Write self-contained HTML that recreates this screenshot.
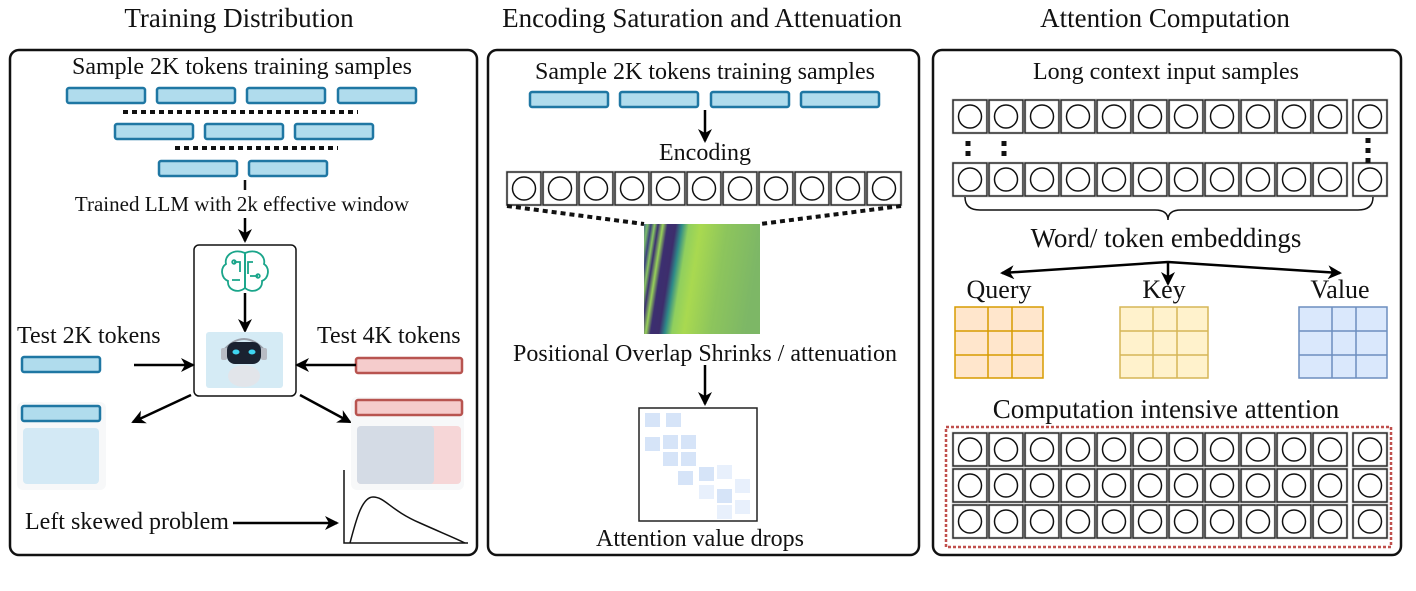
<!DOCTYPE html>
<html><head><meta charset="utf-8"><style>
html,body{margin:0;padding:0;background:#fff}
svg{display:block}
text{font-family:"Liberation Serif",serif;fill:#111}
</style></head><body>
<svg width="1416" height="591" viewBox="0 0 1416 591" xmlns="http://www.w3.org/2000/svg">
<defs>
<marker id="ah" markerWidth="14" markerHeight="14" refX="12" refY="7" orient="auto" markerUnits="userSpaceOnUse"><path d="M0,0 L14,7 L0,14 L4,7 Z" fill="#000"/></marker>
<g id="tb"><rect x="0" y="0" width="34" height="33" fill="#fff" stroke="#bbb" stroke-width="2.5"/><rect x="0" y="0" width="34" height="33" fill="none" stroke="#222" stroke-width="1.3"/><circle cx="17" cy="16.5" r="11.5" fill="none" stroke="#111" stroke-width="1.5"/></g>
<rect id="bb" width="78" height="15" rx="2" fill="#b0dced" stroke="#1f77a3" stroke-width="2.5"/>
<linearGradient id="hm" x1="0" y1="0" x2="1" y2="0.15">
<stop offset="0" stop-color="#4a6b8a"/><stop offset="0.03" stop-color="#7bbd6a"/><stop offset="0.06" stop-color="#3a3f7d"/><stop offset="0.09" stop-color="#8ac860"/><stop offset="0.12" stop-color="#3b2f72"/><stop offset="0.16" stop-color="#98d259"/><stop offset="0.2" stop-color="#3c2f70"/><stop offset="0.27" stop-color="#3d2d6c"/><stop offset="0.32" stop-color="#2e8a88"/><stop offset="0.38" stop-color="#90cf5e"/><stop offset="0.48" stop-color="#a9d950"/><stop offset="0.7" stop-color="#8dc55c"/><stop offset="1" stop-color="#7db766"/>
</linearGradient>
</defs>

<!-- titles -->
<text x="239" y="27" font-size="27" text-anchor="middle">Training Distribution</text>
<text x="702" y="27" font-size="27" text-anchor="middle">Encoding Saturation and Attenuation</text>
<text x="1165" y="27" font-size="27" text-anchor="middle">Attention Computation</text>

<!-- panels -->
<rect x="10" y="50" width="467" height="505" rx="9" fill="none" stroke="#111" stroke-width="2.5"/>
<rect x="488" y="50" width="431" height="505" rx="9" fill="none" stroke="#111" stroke-width="2.5"/>
<rect x="933" y="50" width="468" height="505" rx="9" fill="none" stroke="#111" stroke-width="2.5"/>

<!-- PANEL 1 -->
<text x="242" y="74" font-size="24" text-anchor="middle">Sample 2K tokens training samples</text>
<use href="#bb" x="67" y="88"/><use href="#bb" x="157" y="88"/><use href="#bb" x="247" y="88"/><use href="#bb" x="338" y="88"/>
<line x1="123" y1="112" x2="358" y2="112" stroke="#111" stroke-width="4" stroke-dasharray="5 4"/>
<use href="#bb" x="115" y="124"/><use href="#bb" x="205" y="124"/><use href="#bb" x="295" y="124"/>
<line x1="175" y1="148" x2="338" y2="148" stroke="#111" stroke-width="4" stroke-dasharray="5 4"/>
<use href="#bb" x="159" y="161"/><use href="#bb" x="249" y="161"/>
<line x1="245" y1="180" x2="245" y2="190" stroke="#111" stroke-width="2.5"/>
<text x="242" y="211" font-size="21" text-anchor="middle">Trained LLM with 2k effective window</text>
<line x1="245" y1="218" x2="245" y2="241" stroke="#000" stroke-width="2.5" marker-end="url(#ah)"/>

<rect x="194" y="245" width="102" height="151" rx="5" fill="#fff" stroke="#111" stroke-width="1.5"/>
<g stroke="#1aa58a" stroke-width="1.8" fill="none">
<path d="M245,253 C233,248 224,256 226,264 C220,268 221,278 228,281 C227,290 238,294 245,288 Z"/>
<path d="M245,253 C257,248 266,256 264,264 C270,268 269,278 262,281 C263,290 252,294 245,288 Z"/>
<path d="M234,262 h6 v10 M240,280 h-8 M253,262 h-5 v12 M258,276 h-8"/>
<circle cx="234" cy="262" r="1.8"/><circle cx="258" cy="276" r="1.8"/>
</g>
<line x1="245" y1="293" x2="245" y2="331" stroke="#000" stroke-width="2.5" marker-end="url(#ah)"/>
<rect x="206" y="332" width="77" height="56" rx="3" fill="#d5ebf5"/>
<ellipse cx="244" cy="376" rx="16" ry="11" fill="#e2e5ea"/>
<path d="M222,352 Q244,326 266,352" fill="none" stroke="#9aa0aa" stroke-width="2"/>
<rect x="227" y="342" width="34" height="22" rx="8" fill="#1a2230"/>
<rect x="221" y="348" width="6" height="12" rx="2" fill="#b8bcc4"/><rect x="261" y="348" width="6" height="12" rx="2" fill="#b8bcc4"/>
<ellipse cx="236" cy="352" rx="3.5" ry="2.5" fill="#3fd4f0"/><ellipse cx="252" cy="352" rx="3.5" ry="2.5" fill="#3fd4f0"/>

<text x="17" y="343" font-size="24">Test 2K tokens</text>
<use href="#bb" x="22" y="357"/>
<line x1="134" y1="365" x2="193" y2="365" stroke="#000" stroke-width="2.5" marker-end="url(#ah)"/>
<text x="317" y="343" font-size="24">Test 4K tokens</text>
<rect x="356" y="358" width="106" height="15" rx="2" fill="#f5cccc" stroke="#b85450" stroke-width="2.5"/>
<line x1="356" y1="365" x2="297" y2="365" stroke="#000" stroke-width="2.5" marker-end="url(#ah)"/>
<line x1="191" y1="395" x2="133" y2="422" stroke="#000" stroke-width="2.5" marker-end="url(#ah)"/>
<line x1="300" y1="395" x2="350" y2="422" stroke="#000" stroke-width="2.5" marker-end="url(#ah)"/>

<rect x="17" y="402" width="89" height="88" rx="6" fill="#f7f8f9"/>
<use href="#bb" x="22" y="406"/>
<rect x="23" y="428" width="76" height="56" rx="4" fill="#d3e9f5"/>
<rect x="351" y="397" width="113" height="93" rx="6" fill="#f7f8f9"/>
<rect x="356" y="400" width="106" height="15" rx="2" fill="#f5cccc" stroke="#b85450" stroke-width="2.5"/>
<rect x="357" y="426" width="104" height="58" rx="4" fill="#f6d6d7"/>
<rect x="357" y="426" width="77" height="58" rx="4" fill="#d4dbe5"/>

<text x="25" y="529" font-size="24">Left skewed problem</text>
<line x1="233" y1="523" x2="337" y2="523" stroke="#000" stroke-width="2.5" marker-end="url(#ah)"/>
<path d="M344,470 V543 H468" fill="none" stroke="#111" stroke-width="1.5"/>
<path d="M350,543 C356,520 362,497 373,497 C385,497 390,510 420,523 C440,532 455,538 465,543" fill="none" stroke="#111" stroke-width="1.5"/>

<!-- PANEL 2 -->
<text x="705" y="79" font-size="24" text-anchor="middle">Sample 2K tokens training samples</text>
<use href="#bb" x="530" y="92"/><use href="#bb" x="620" y="92"/><use href="#bb" x="711" y="92"/><use href="#bb" x="801" y="92"/>
<line x1="705" y1="110" x2="705" y2="141" stroke="#000" stroke-width="2.5" marker-end="url(#ah)"/>
<text x="705" y="160" font-size="24" text-anchor="middle">Encoding</text>
<use href="#tb" x="507" y="172"/><use href="#tb" x="543" y="172"/><use href="#tb" x="579" y="172"/><use href="#tb" x="615" y="172"/><use href="#tb" x="651" y="172"/><use href="#tb" x="687" y="172"/><use href="#tb" x="723" y="172"/><use href="#tb" x="759" y="172"/><use href="#tb" x="795" y="172"/><use href="#tb" x="831" y="172"/><use href="#tb" x="867" y="172"/>
<line x1="507" y1="206" x2="644" y2="224" stroke="#111" stroke-width="4" stroke-dasharray="5 4"/>
<line x1="901" y1="206" x2="760" y2="224" stroke="#111" stroke-width="4" stroke-dasharray="5 4"/>
<rect x="644" y="224" width="116" height="110" fill="url(#hm)"/>
<text x="705" y="361" font-size="24" text-anchor="middle">Positional Overlap Shrinks / attenuation</text>
<line x1="705" y1="365" x2="705" y2="404" stroke="#000" stroke-width="2.5" marker-end="url(#ah)"/>
<rect x="639" y="408" width="118" height="113" fill="#fff" stroke="#222" stroke-width="1.5"/>
<g fill="#d6e4f8">
<rect x="645" y="413" width="15" height="14"/><rect x="666" y="413" width="15" height="14"/>
<rect x="645" y="437" width="15" height="14"/><rect x="663" y="435" width="15" height="14"/><rect x="681" y="435" width="15" height="14"/>
<rect x="663" y="452" width="15" height="14"/><rect x="681" y="452" width="15" height="14"/>
<rect x="678" y="471" width="15" height="14"/><rect x="699" y="467" width="15" height="14"/>
<rect x="717" y="489" width="15" height="14"/>
</g>
<g fill="#e8f0fc">
<rect x="717" y="465" width="15" height="14"/><rect x="699" y="485" width="15" height="14"/><rect x="735" y="479" width="15" height="14"/><rect x="717" y="505" width="15" height="14"/><rect x="735" y="500" width="15" height="14"/>
</g>
<text x="700" y="546" font-size="24" text-anchor="middle">Attention value drops</text>

<!-- PANEL 3 -->
<text x="1166" y="79" font-size="24" text-anchor="middle">Long context input samples</text>
<g id="row"><use href="#tb" x="953" y="100"/><use href="#tb" x="989" y="100"/><use href="#tb" x="1025" y="100"/><use href="#tb" x="1061" y="100"/><use href="#tb" x="1097" y="100"/><use href="#tb" x="1133" y="100"/><use href="#tb" x="1169" y="100"/><use href="#tb" x="1205" y="100"/><use href="#tb" x="1241" y="100"/><use href="#tb" x="1277" y="100"/><use href="#tb" x="1313" y="100"/><use href="#tb" x="1353" y="100"/></g>
<use href="#row" y="63"/>
<g stroke="#111" stroke-width="5" stroke-dasharray="5 5">
<line x1="968" y1="141" x2="968" y2="160"/><line x1="1004" y1="141" x2="1004" y2="160"/><line x1="1368" y1="138" x2="1368" y2="163"/>
</g>
<path d="M965,197 Q965,210 980,210 H1155 Q1168,210 1168,220 Q1168,210 1181,210 H1358 Q1373,210 1373,197" fill="none" stroke="#111" stroke-width="1.5"/>
<text x="1166" y="247" font-size="27" text-anchor="middle">Word/ token embeddings</text>
<g stroke="#000" stroke-width="2.5" marker-end="url(#ah)">
<line x1="1168" y1="262" x2="1002" y2="273"/><line x1="1168" y1="262" x2="1168" y2="284"/><line x1="1168" y1="262" x2="1340" y2="273"/>
</g>
<text x="999" y="298" font-size="26" text-anchor="middle">Query</text>
<text x="1164" y="298" font-size="26" text-anchor="middle">Key</text>
<text x="1340" y="298" font-size="26" text-anchor="middle">Value</text>
<g stroke-width="1.5">
<g fill="#ffe6cc" stroke="#d79b00"><rect x="955" y="307" width="88" height="71"/><path d="M988,307V378M1012,307V378M955,331H1043M955,355H1043" fill="none"/></g>
<g fill="#fff2cc" stroke="#d6b656"><rect x="1120" y="307" width="88" height="71"/><path d="M1153,307V378M1177,307V378M1120,331H1208M1120,355H1208" fill="none"/></g>
<g fill="#dae8fc" stroke="#6c8ebf"><rect x="1299" y="307" width="88" height="71"/><path d="M1332,307V378M1356,307V378M1299,331H1387M1299,355H1387" fill="none"/></g>
</g>
<text x="1166" y="418" font-size="27" text-anchor="middle">Computation intensive attention</text>
<rect x="946" y="427" width="445" height="120" fill="none" stroke="#c0504d" stroke-width="2.5" stroke-dasharray="3 2"/>
<use href="#row" y="333"/><use href="#row" y="369"/><use href="#row" y="405"/>
</svg>
</body></html>
